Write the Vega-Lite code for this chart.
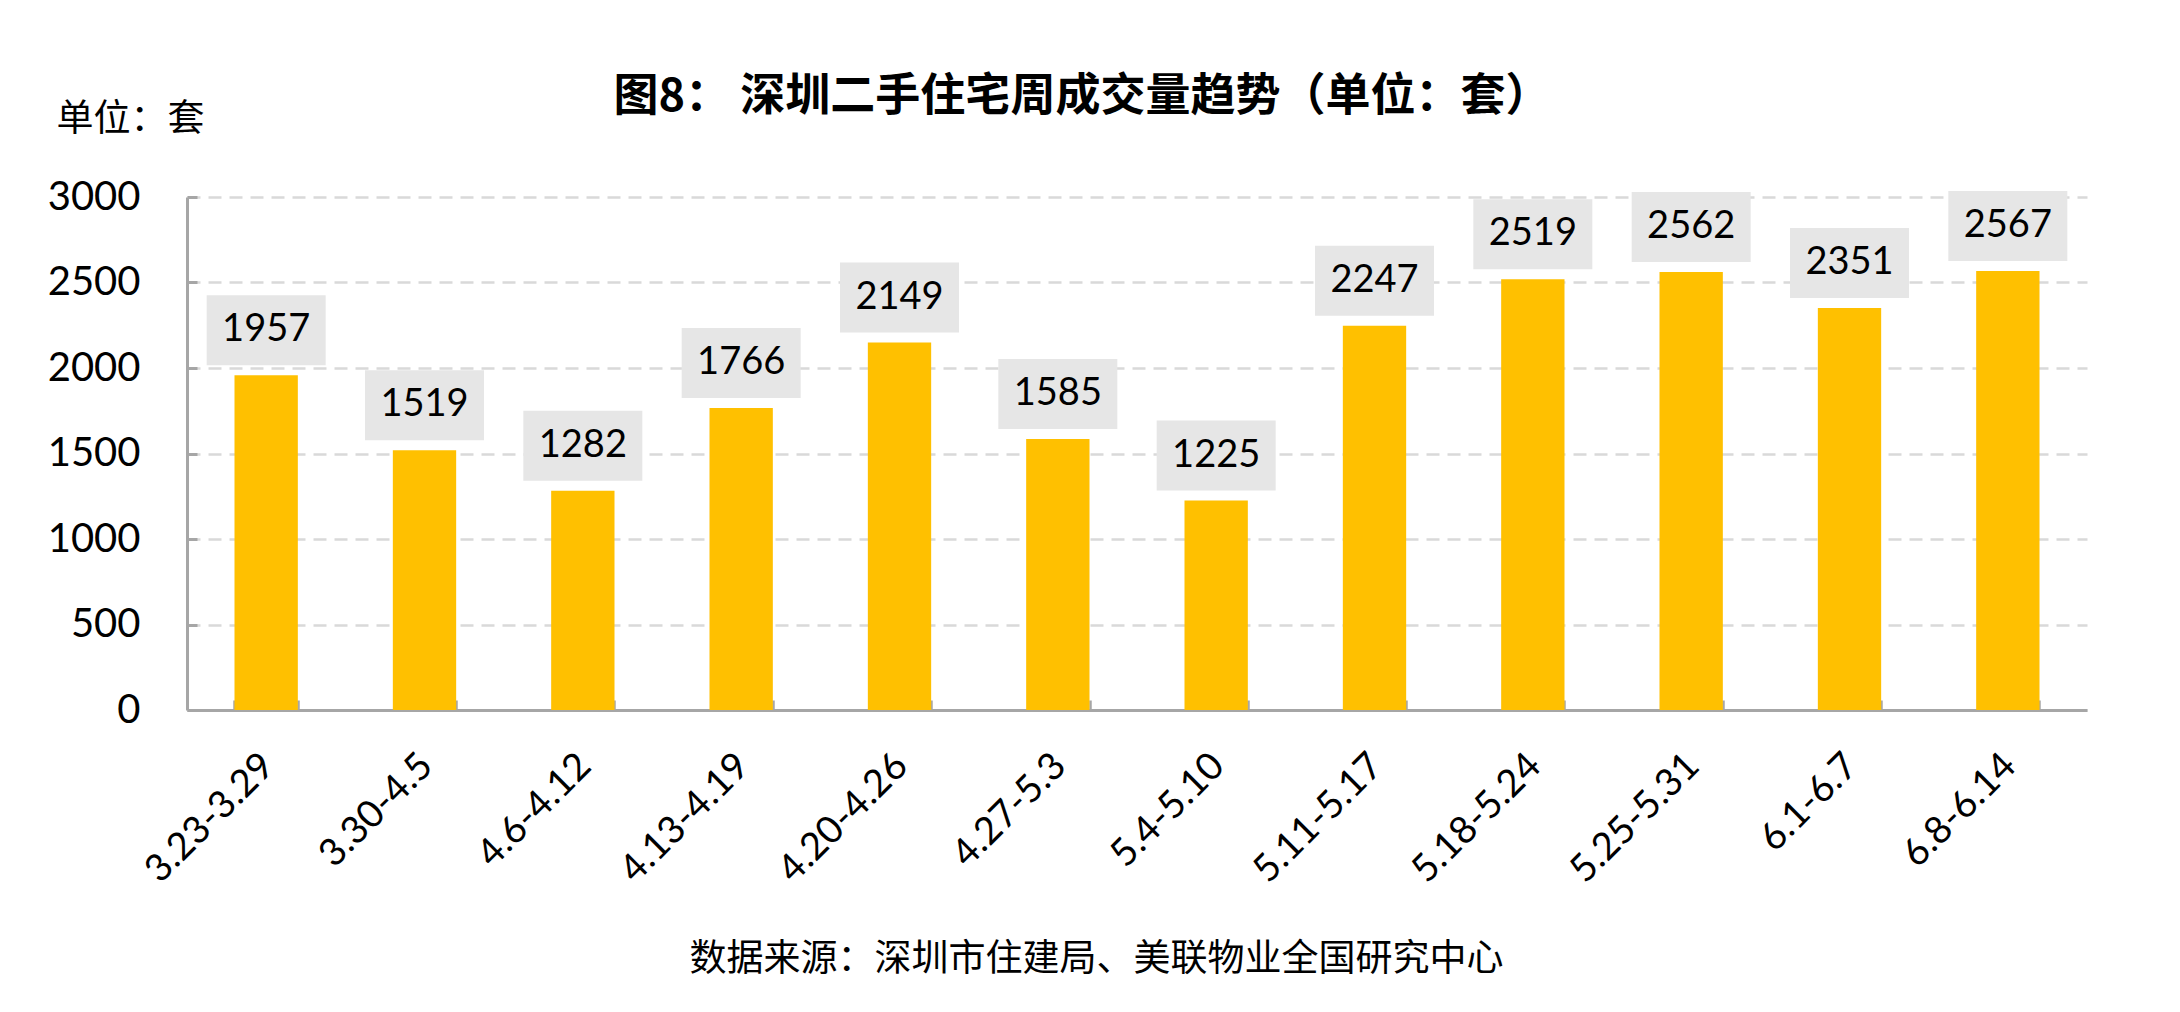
{
  "$schema": "https://vega.github.io/schema/vega-lite/v6.json",
  "autosize": "none",
  "width": 1900,
  "height": 513,
  "padding": {"left": 187, "top": 197, "right": 93, "bottom": 302},
  "background": "white",
  "title": {
    "text": "图8： 深圳二手住宅周成交量趋势（单位：套）",
    "anchor": "middle",
    "frame": "group",
    "dx": -55,
    "offset": -42,
    "baseline": "middle",
    "font": "Noto Sans CJK SC",
    "fontSize": 45,
    "fontWeight": "bold",
    "color": "#000000"
  },
  "data": {
    "values": [
      {"week": "3.23-3.29", "value": 1957},
      {"week": "3.30-4.5", "value": 1519},
      {"week": "4.6-4.12", "value": 1282},
      {"week": "4.13-4.19", "value": 1766},
      {"week": "4.20-4.26", "value": 2149},
      {"week": "4.27-5.3", "value": 1585},
      {"week": "5.4-5.10", "value": 1225},
      {"week": "5.11-5.17", "value": 2247},
      {"week": "5.18-5.24", "value": 2519},
      {"week": "5.25-5.31", "value": 2562},
      {"week": "6.1-6.7", "value": 2351},
      {"week": "6.8-6.14", "value": 2567}
    ]
  },
  "encoding": {
    "x": {
      "field": "week",
      "type": "nominal",
      "sort": null,
      "scale": {"paddingInner": 0.6, "paddingOuter": 0.3},
      "axis": {
        "title": "数据来源：深圳市住建局、美联物业全国研究中心",
        "titleFont": "Noto Sans CJK SC",
        "titleFontSize": 37,
        "titleFontWeight": "normal",
        "titleColor": "#000000",
        "titleX": 909,
        "titleY": 249,
        "titleBaseline": "middle",
        "titleAnchor": null,
        "titleAlign": "center",
        "labelAngle": -45,
        "labelAlign": "right",
        "labelBaseline": "middle",
        "labelFont": "Lato",
        "labelFontSize": 38,
        "labelColor": "#000000",
        "labelPadding": 60,
        "labelOffset": 2,
        "labelOverlap": false,
        "labelLimit": 400,
        "domainColor": "#A6A6A6",
        "domainWidth": 3,
        "tickColor": "#A6A6A6",
        "tickWidth": 2.5,
        "tickSize": -10,
        "tickBand": "extent",
        "grid": false
      }
    },
    "y": {
      "field": "value",
      "type": "quantitative",
      "scale": {"domain": [0, 3000], "nice": false},
      "axis": {
        "values": [0, 500, 1000, 1500, 2000, 2500, 3000],
        "format": "d",
        "title": "单位：套",
        "titleFont": "Noto Sans CJK SC",
        "titleFontSize": 37,
        "titleFontWeight": "normal",
        "titleColor": "#000000",
        "titleAngle": 0,
        "titleX": -131,
        "titleY": -78,
        "titleAlign": "left",
        "titleBaseline": "middle",
        "titleAnchor": null,
        "labelFont": "Lato",
        "labelFontSize": 40,
        "labelColor": "#000000",
        "labelPadding": 57,
        "domainColor": "#A6A6A6",
        "domainWidth": 3,
        "tickColor": "#A6A6A6",
        "tickWidth": 3,
        "tickSize": -10,
        "grid": true,
        "gridColor": "#D9D9D9",
        "gridWidth": 2.5,
        "gridDash": [13, 8]
      }
    }
  },
  "layer": [
    {
      "mark": {"type": "bar", "color": "#FFC000"}
    },
    {
      "mark": {
        "type": "point",
        "shape": "M-1.7,-1L1.7,-1L1.7,1L-1.7,1Z",
        "size": 4900,
        "filled": true,
        "color": "#E6E6E6",
        "opacity": 1,
        "strokeWidth": 0,
        "yOffset": -45
      }
    },
    {
      "mark": {
        "type": "text",
        "font": "Lato",
        "fontSize": 38,
        "color": "#000000",
        "baseline": "middle",
        "align": "center",
        "yOffset": -45
      },
      "encoding": {"text": {"field": "value", "type": "quantitative", "format": "d"}}
    }
  ],
  "config": {"view": {"stroke": null}}
}
